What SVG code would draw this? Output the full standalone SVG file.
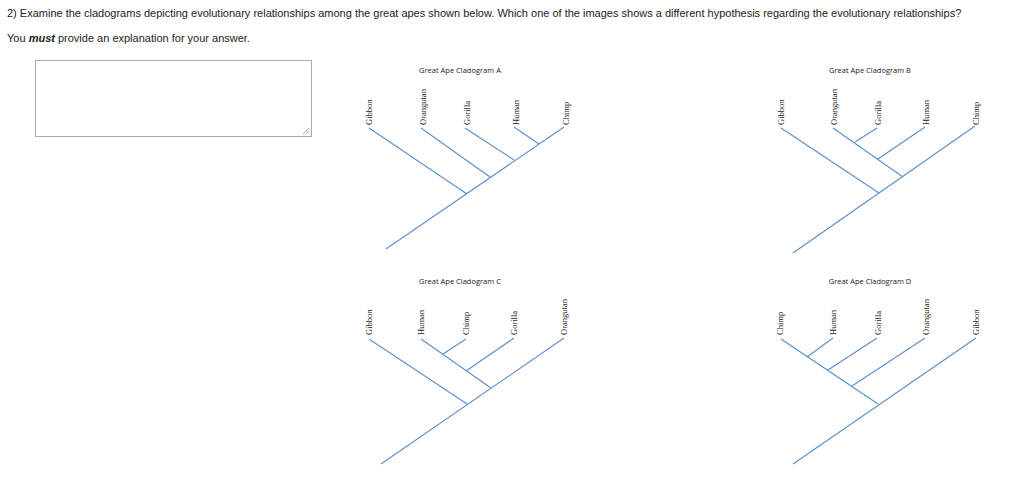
<svg xmlns="http://www.w3.org/2000/svg" width="1024" height="495" viewBox="0 0 1024 495">
<style>
.q{font-family:"Liberation Sans",Arial,sans-serif;font-size:11px;fill:#222}
.t{font-family:"Open Sans","Liberation Sans",sans-serif;font-size:7.5px;fill:#222;text-anchor:middle}
.l{font-family:"Liberation Serif",serif;font-size:8.5px;fill:#222}
.c line{stroke:#5b8fc9;stroke-width:1.1}
</style>
<rect width="1024" height="495" fill="#fff"/>
<text class="q" x="7" y="17">2) Examine the cladograms depicting evolutionary relationships among the great apes shown below. Which one of the images shows a different hypothesis regarding the evolutionary relationships?</text>
<text class="q" x="7" y="42">You <tspan font-weight="bold" font-style="italic">must</tspan> provide an explanation for your answer.</text>
<g id="answerbox"><rect x="35.5" y="60.5" width="276" height="76" fill="#fff" stroke="#aaa"/>
<path d="M303 134 L309 128 M306 134 L309 131" stroke="#999" stroke-width="0.8"/></g>

<g id="cladA">
<text class="t" x="460" y="73">Great Ape Cladogram A</text>
<text class="l" transform="translate(372,125) rotate(-90)">Gibbon</text>
<text class="l" transform="translate(426,125) rotate(-90)">Orangutan</text>
<text class="l" transform="translate(470,125) rotate(-90)">Gorilla</text>
<text class="l" transform="translate(519,125) rotate(-90)">Human</text>
<text class="l" transform="translate(569,125) rotate(-90)">Chimp</text>
<g class="c">
<line x1="386" y1="249" x2="564" y2="127"/>
<line x1="369" y1="128" x2="467" y2="194"/>
<line x1="421" y1="128" x2="490" y2="177"/>
<line x1="465" y1="128" x2="514" y2="160"/>
<line x1="514" y1="127" x2="539" y2="144"/>
</g></g>

<g id="cladB">
<text class="t" x="870" y="73">Great Ape Cladogram B</text>
<text class="l" transform="translate(784,125) rotate(-90)">Gibbon</text>
<text class="l" transform="translate(837,125) rotate(-90)">Orangutan</text>
<text class="l" transform="translate(881,125) rotate(-90)">Gorilla</text>
<text class="l" transform="translate(929,125) rotate(-90)">Human</text>
<text class="l" transform="translate(979,125) rotate(-90)">Chimp</text>
<g class="c">
<line x1="793" y1="253" x2="975" y2="126"/>
<line x1="781" y1="128" x2="879" y2="193"/>
<line x1="833" y1="128" x2="903" y2="177"/>
<line x1="877" y1="128" x2="855" y2="142"/>
<line x1="925" y1="127" x2="878" y2="159"/>
</g></g>

<g id="cladC">
<text class="t" x="460" y="284">Great Ape Cladogram C</text>
<text class="l" transform="translate(372,335) rotate(-90)">Gibbon</text>
<text class="l" transform="translate(424,335) rotate(-90)">Human</text>
<text class="l" transform="translate(469,335) rotate(-90)">Chimp</text>
<text class="l" transform="translate(517,335) rotate(-90)">Gorilla</text>
<text class="l" transform="translate(567,335) rotate(-90)">Orangutan</text>
<g class="c">
<line x1="381" y1="464" x2="564" y2="338"/>
<line x1="369" y1="339" x2="467" y2="404"/>
<line x1="421" y1="339" x2="491" y2="388"/>
<line x1="466" y1="339" x2="443" y2="354"/>
<line x1="514" y1="338" x2="466" y2="371"/>
</g></g>

<g id="cladD">
<text class="t" x="870" y="284">Great Ape Cladogram D</text>
<text class="l" transform="translate(783,335) rotate(-90)">Chimp</text>
<text class="l" transform="translate(836,335) rotate(-90)">Human</text>
<text class="l" transform="translate(881,335) rotate(-90)">Gorilla</text>
<text class="l" transform="translate(929,335) rotate(-90)">Orangutan</text>
<text class="l" transform="translate(979,335) rotate(-90)">Gibbon</text>
<g class="c">
<line x1="793" y1="464" x2="976" y2="338"/>
<line x1="781" y1="339" x2="878" y2="404"/>
<line x1="833" y1="338" x2="807" y2="357"/>
<line x1="877" y1="338" x2="828" y2="370"/>
<line x1="925" y1="338" x2="852" y2="386"/>
</g></g>
</svg>
